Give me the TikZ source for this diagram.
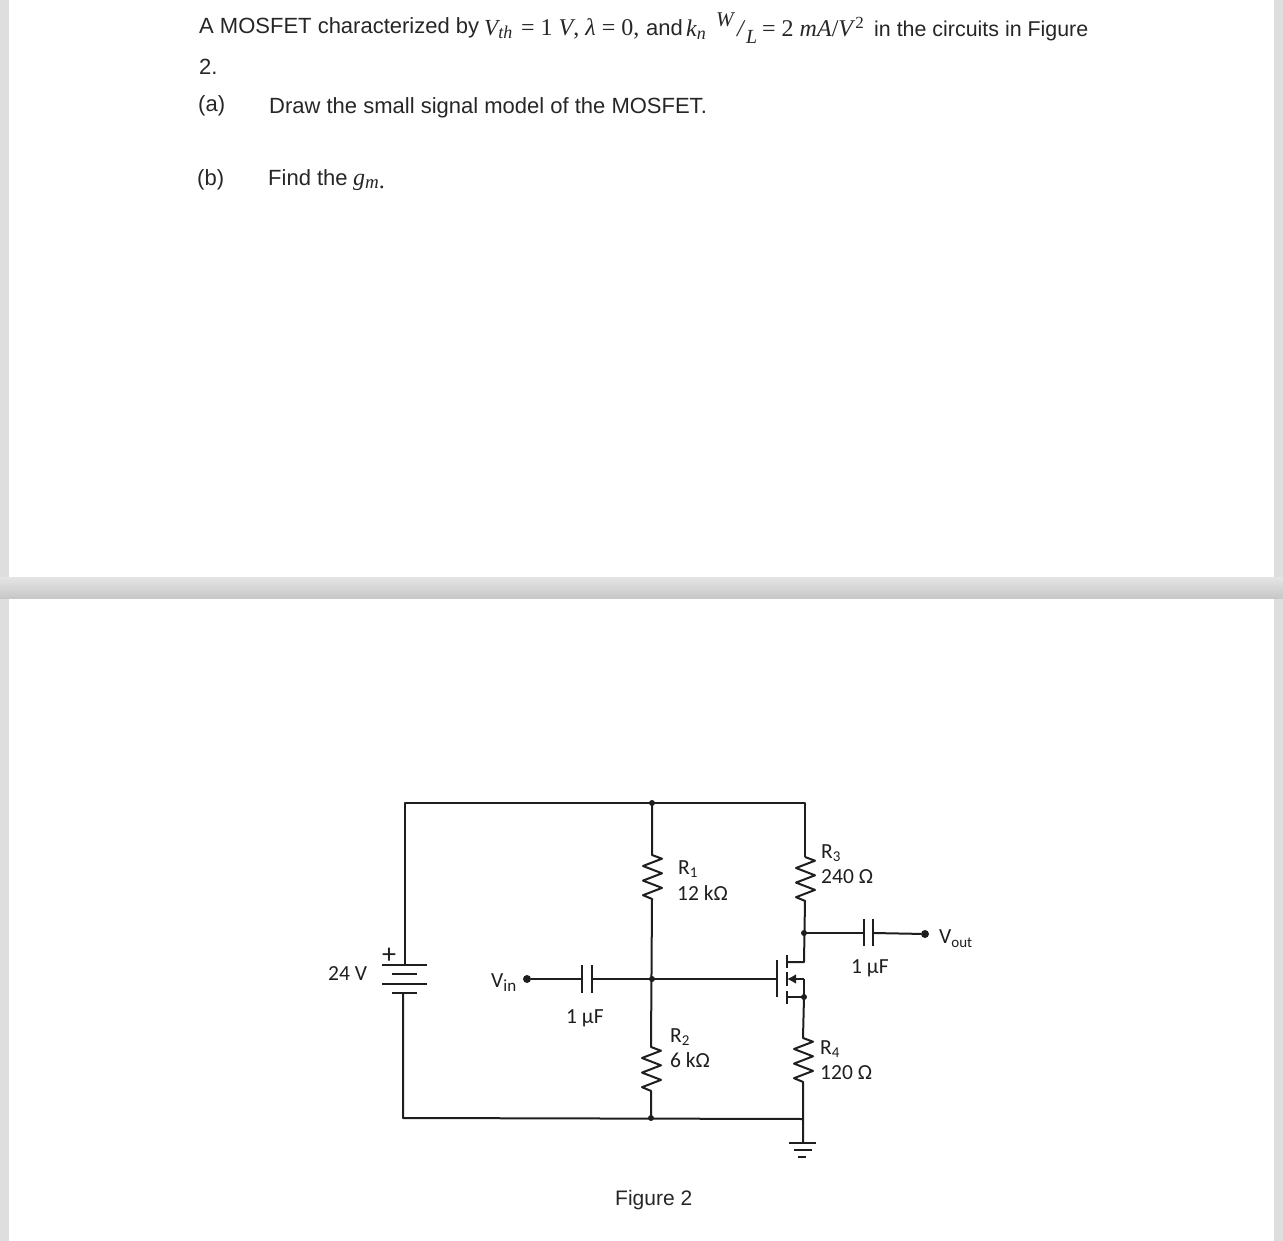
\documentclass[tikz,border=0pt]{standalone}
\usepackage{fontspec}
\setmainfont{Liberation Sans}
\newfontfamily\lab{Carlito}
\newfontfamily\mth{Liberation Serif}[Scale=1.0]
\usetikzlibrary{arrows.meta}
\definecolor{ink}{HTML}{1E1E1E}
\definecolor{gut}{HTML}{DEDEDE}
\newcommand{\zig}{-- ++(10,3.7) -- ++(-19,7.3) -- ++(19,7.3) -- ++(-19,7.3) -- ++(19,7.3) -- ++(-19,7.3) -- ++(9,3.7)}
\tikzset{
  x=1pt,y=-1pt,
  wire/.style={draw=ink,line width=2pt,line join=round},
  plate/.style={draw=ink,line width=2.2pt},
  dot/.style={circle,fill=ink,inner sep=0pt,minimum size=#1},
  txt/.style={anchor=base west,inner sep=0pt,text=black!85,font=\fontsize{22}{26}\selectfont},
  mt/.style={anchor=base west,inner sep=0pt,text=black!85,font=\mth\fontsize{24}{28}\selectfont},
  lbl/.style={anchor=base west,inner sep=0pt,text=ink,font=\lab\fontsize{21.5}{25}\selectfont},
}
\begin{document}
\begin{tikzpicture}
\useasboundingbox (0,0) rectangle (1283,1241);
% page gutters
\fill[gut] (0,0) rectangle (9,1241);
\fill[gut] (1274,0) rectangle (1283,1241);
\shade[top color=gut!80,bottom color=black!22] (0,577) rectangle (1283,598);
% question text
\node[txt] (t1) at (199,34) {A MOSFET characterized by};
\node[mt,font=\mth\fontsize{23}{27}\selectfont] (t2) at (484,36) {\itshape V\raisebox{-3pt}{\fontsize{18}{18}\selectfont th}};
\node[mt] (t3) at (521,36) {= 1 \textit{V}, \textit{λ} = 0,};
\node[txt] (t4) at (646,36) {and};
\node[mt] (t5) at (686,37) {\itshape k\raisebox{-3pt}{\fontsize{18}{18}\selectfont n}};
\node[mt] (t6) at (716,27) {\itshape\fontsize{21}{21}\selectfont W};
\node[mt] (t7) at (737,37) {\itshape /};
\node[mt] (t8) at (746,44) {\itshape\fontsize{20}{20}\selectfont L};
\node[mt] (t9) at (762,37) {= 2 \textit{mA}/\textit{V}\raisebox{8pt}{\fontsize{17}{17}\selectfont 2}};
\node[txt,font=\fontsize{21.4}{26}\selectfont] (t10) at (874,37) {in the circuits in Figure};
\node[txt] (t11) at (199,75) {2.};
\node[txt] (t12) at (198,112) {(a)};
\node[txt] (t13) at (269,114) {Draw the small signal model of the MOSFET.};
\node[txt] (t14) at (197,186) {(b)};
\node[txt] (t15) at (268,186) {Find the};
\node[mt] (t16) at (353,186) {\itshape g\raisebox{-3pt}{\fontsize{19}{19}\selectfont m}\upshape\raisebox{-3pt}{.}};
% circuit points
\coordinate (tl) at (405,803);
\coordinate (bt) at (405,965);
\coordinate (bb) at (403,993);
\coordinate (bl) at (403,1118);
\coordinate (tm) at (652,803);
\coordinate (tr) at (805,803);
\coordinate (r1a) at (652,855);
\coordinate (r1b) at (652,899);
\coordinate (gm) at (652,979);
\coordinate (r2a) at (651,1047);
\coordinate (r2b) at (651,1091);
\coordinate (bm) at (651,1118);
\coordinate (r3a) at (805,857);
\coordinate (r3b) at (805,901);
\coordinate (dj) at (804,933);
\coordinate (dtop) at (804,962);
\coordinate (dst) at (787,962);
\coordinate (sst) at (787,997);
\coordinate (sj) at (804,997);
\coordinate (arr) at (804,979);
\coordinate (ach) at (787,979);
\coordinate (r4a) at (803,1038);
\coordinate (r4b) at (803,1082);
\coordinate (br) at (803,1119);
\coordinate (gnd) at (803,1143);
\coordinate (gg) at (777,979);
\coordinate (c1l) at (582,979);
\coordinate (c1r) at (592,979);
\coordinate (c2l) at (864,933);
\coordinate (c2r) at (873,933);
% dots
\node[dot=8pt] (vin) at (527,979) {};
\node[dot=8pt] (vout) at (925,934) {};
\node[dot=6pt] at (tm) {};
\node[dot=6pt] at (gm) {};
\node[dot=6pt] at (bm) {};
\node[dot=6pt] at (dj) {};
\node[dot=6pt] at (sj) {};
% wires
\draw[wire] (bt) -- (tl) -- (tr) -- (r3a);
\draw[wire] (bb) -- (bl) -- (br);
\draw[wire] (tm) -- (r1a) \zig -- (r1b) -- (r2a) \zig -- (r2b) -- (bm);
\draw[wire] (r3a) \zig -- (r3b) -- (dtop) -- (dst);
\draw[wire] (vin) -- (c1l);
\draw[wire] (c1r) -- (gg);
\draw[wire] (dj) -- (c2l);
\draw[wire] (c2r) -- (vout);
\draw[wire] (sst) -- (sj) -- (arr);
\draw[wire,-{Latex[length=9pt,width=10pt]}] (arr) -- (ach);
\draw[wire] (sj) -- (r4a) \zig -- (r4b) -- (gnd);
% capacitors
\draw[plate] (582,965) -- (582,993);
\draw[plate] (592,965) -- (592,993);
\draw[plate] (864,919) -- (864,946);
\draw[plate] (873,919) -- (873,946);
% battery
\draw[plate] (382,965) -- (427,965);
\draw[plate] (392,974) -- (417,974);
\draw[plate] (382,984) -- (427,984);
\draw[plate] (392,993) -- (417,993);
% MOSFET
\draw[plate] (777,960) -- (777,997);
\draw[plate] (787,955) -- (787,968);
\draw[plate] (787,972) -- (787,986);
\draw[plate] (787,991) -- (787,1004);
% ground
\draw[plate] (789,1143) -- (816,1143);
\draw[plate] (794,1150) -- (812,1150);
\draw[plate] (798,1157) -- (806,1157);
% labels
\node[lbl,font=\lab\fontsize{28}{30}\selectfont] (plus) at (382,963) {+};
\node[lbl] (lv) at (328,980) {24 V};
\node[lbl] (lin) at (491,987) {V\raisebox{-4pt}{\fontsize{17}{17}\selectfont in}};
\node[lbl] (lc1) at (566,1023) {1 µF};
\node[lbl] (lr1) at (678,874) {R\raisebox{-3pt}{\fontsize{15}{15}\selectfont 1}};
\node[lbl] (lr1v) at (677,900) {12 kΩ};
\node[lbl] (lr2) at (670,1042) {R\raisebox{-3pt}{\fontsize{15}{15}\selectfont 2}};
\node[lbl] (lr2v) at (670,1067) {6 kΩ};
\node[lbl] (lr3) at (821,858) {R\raisebox{-3pt}{\fontsize{15}{15}\selectfont 3}};
\node[lbl] (lr3v) at (821,883) {240 Ω};
\node[lbl] (lr4) at (820,1054) {R\raisebox{-3pt}{\fontsize{15}{15}\selectfont 4}};
\node[lbl] (lr4v) at (820,1079) {120 Ω};
\node[lbl] (lc2) at (851,973) {1 µF};
\node[lbl] (lout) at (939,943) {V\raisebox{-4pt}{\fontsize{15}{15}\selectfont out}};
\node[lbl,text=black!85,font=\fontsize{21}{25}\selectfont] (fig) at (615,1205) {Figure 2};
\end{tikzpicture}
\end{document}
